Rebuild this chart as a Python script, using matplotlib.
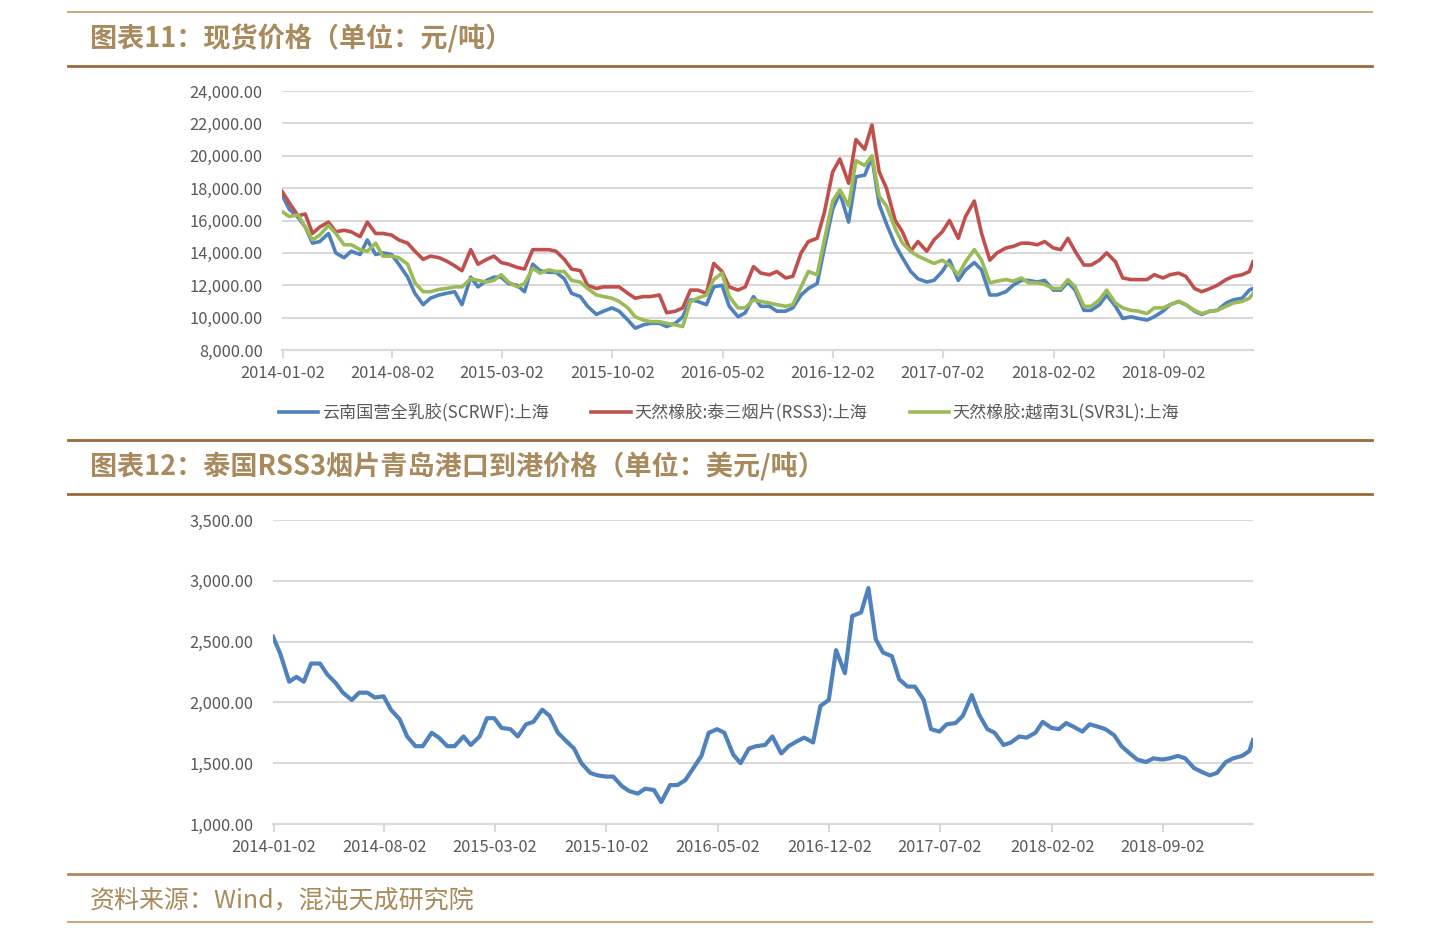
import matplotlib
matplotlib.use("Agg")
import matplotlib.pyplot as plt
import pandas as pd

plt.rcParams['font.family'] = ['Noto Sans CJK SC', 'DejaVu Sans']

# semi-monthly sample dates, plus the last day shown
dates = list(pd.date_range('2014-01-01', '2019-02-15', freq='SMS')) + [pd.Timestamp('2019-02-22')]

# chart 11: spot prices (yuan/ton)
scrwf = [17600, 16700, 16200, 15600, 14600, 14700, 15200, 14000, 13700, 14100,
         13900, 14800, 13900, 14000, 13900, 13300, 12500, 11500, 10800, 11200,
         11400, 11500, 11600, 10800, 12500, 11900, 12300, 12500, 12500, 12100,
         12000, 11600, 13300, 12900, 12800, 12800, 12400, 11500, 11300, 10700,
         10200, 10400, 10600, 10400, 9850, 9350, 9550, 9650, 9650, 9450,
         9650, 10050, 11100, 11000, 10800, 11900, 12000, 10700, 10050, 10300,
         11300, 10700, 10700, 10400, 10400, 10600, 11400, 11800, 12100, 14300,
         16700, 17700, 15900, 18700, 18800, 19900, 17000, 15800, 14500, 13700,
         12850, 12400, 12200, 12300, 12850, 13550, 12300, 12950, 13400, 12950,
         11400, 11400, 11600, 12000, 12300, 12300, 12200, 12300, 11700, 11700,
         12200, 11700, 10450, 10450, 10800, 11400, 10700, 9950, 10050, 9950,
         9850, 10050, 10400, 10800, 11000, 10800, 10400, 10200, 10400, 10450,
         10900, 11100, 11200, 11700, 11800]
rss3 = [17800, 17100, 16300, 16400, 15200, 15600, 15900, 15300, 15400, 15300,
        15000, 15900, 15200, 15200, 15100, 14800, 14600, 14100, 13600, 13800,
        13700, 13500, 13200, 12900, 14200, 13300, 13600, 13800, 13400, 13300,
        13100, 13000, 14200, 14200, 14200, 14100, 13600, 13000, 12900, 12000,
        11800, 11900, 11900, 11900, 11500, 11200, 11300, 11300, 11400, 10300,
        10400, 10600, 11700, 11700, 11500, 13350, 12850, 11900, 11700, 11900,
        13150, 12750, 12650, 12850, 12450, 12550, 14000, 14700, 14900, 16500,
        19000, 19800, 18300, 21000, 20400, 21900, 19000, 18000, 16000, 15300,
        14100, 14700, 14100, 14800, 15300, 16000, 14900, 16250, 17200, 15200,
        13550, 14000, 14300, 14400, 14600, 14600, 14500, 14700, 14300, 14200,
        14900, 14100, 13250, 13250, 13550, 14000, 13450, 12450, 12350, 12350,
        12350, 12650, 12450, 12650, 12750, 12550, 11800, 11600, 11800, 12000,
        12350, 12550, 12650, 12850, 13450]
svr3l = [16550, 16250, 16350, 15600, 14800, 15100, 15700, 15200, 14500, 14500,
         14200, 14100, 14600, 13800, 13800, 13700, 13300, 12150, 11600, 11600,
         11750, 11800, 11900, 11900, 12400, 12300, 12200, 12300, 12650, 12200,
         11900, 12100, 13050, 12750, 12950, 12850, 12850, 12300, 12200, 11800,
         11400, 11300, 11200, 11000, 10600, 10050, 9850, 9750, 9750, 9650,
         9550, 9450, 11000, 11200, 11400, 12350, 12750, 11300, 10600, 10600,
         11100, 11000, 10900, 10800, 10700, 10800, 11900, 12850, 12650, 14800,
         17200, 17900, 16900, 19700, 19400, 20000, 17500, 16900, 15500, 14600,
         14100, 13800, 13550, 13350, 13550, 13250, 12650, 13450, 14200, 13550,
         12150, 12250, 12350, 12250, 12450, 12150, 12150, 12050, 11800, 11800,
         12350, 11900, 10700, 10700, 11100, 11700, 10900, 10600, 10450, 10400,
         10250, 10600, 10600, 10800, 11000, 10800, 10450, 10250, 10400, 10450,
         10700, 10900, 11000, 11200, 11500]

# chart 12: Thai RSS3 arrival price at Qingdao (USD/ton)
rss3_qd = [2540, 2400, 2170, 2210, 2170, 2320, 2320, 2230, 2160, 2080,
           2020, 2080, 2080, 2040, 2050, 1940, 1860, 1720, 1640, 1640,
           1750, 1710, 1640, 1640, 1720, 1650, 1720, 1870, 1870, 1790,
           1780, 1720, 1820, 1840, 1940, 1890, 1750, 1690, 1620, 1500,
           1420, 1400, 1390, 1390, 1310, 1270, 1250, 1290, 1280, 1180,
           1320, 1320, 1360, 1450, 1560, 1750, 1780, 1750, 1570, 1500,
           1620, 1640, 1650, 1720, 1580, 1640, 1680, 1710, 1670, 1970,
           2020, 2430, 2240, 2710, 2740, 2940, 2520, 2410, 2380, 2190,
           2130, 2130, 2020, 1780, 1760, 1820, 1830, 1890, 2060, 1900,
           1780, 1750, 1650, 1670, 1720, 1710, 1750, 1840, 1790, 1780,
           1830, 1800, 1760, 1820, 1800, 1780, 1730, 1640, 1580, 1530,
           1510, 1540, 1530, 1540, 1560, 1540, 1460, 1430, 1400, 1420,
           1510, 1540, 1560, 1600, 1690]

tick_labels = ['2014-01-02', '2014-08-02', '2015-03-02', '2015-10-02', '2016-05-02',
               '2016-12-02', '2017-07-02', '2018-02-02', '2018-09-02']
top_ticks = list(range(8000, 24001, 2000))
bot_ticks = list(range(1000, 3501, 500))
legend_labels = ['云南国营全乳胶(SCRWF):上海', '天然橡胶:泰三烟片(RSS3):上海', '天然橡胶:越南3L(SVR3L):上海']

BLUE, RED, GREEN = '#4f81bd', '#c0504d', '#9bbb59'
GRID = '#d9d9d9'
TXT = '#595959'
GOLD = '#a88a5c'
DARK = '#9c6a3a'

W, H = 1440, 934
fig = plt.figure(figsize=(W / 100, H / 100), dpi=100)


def ax_at(x0, y0, x1, y1):
    # pixel box (top-left origin) -> axes
    return fig.add_axes([x0 / W, 1 - y1 / H, (x1 - x0) / W, (y1 - y0) / H])


def hline(y, color, lw):
    fig.add_artist(plt.Line2D([68 / W, 1372 / W], [1 - y / H, 1 - y / H], color=color, lw=lw))


def style_axes(ax, yticks):
    ax.set_ylim(yticks[0], yticks[-1])
    ax.set_yticks(yticks)
    ax.set_yticklabels(['{:,.2f}'.format(v) for v in yticks])
    ax.set_xlim(pd.Timestamp('2014-01-01'), pd.Timestamp('2019-02-22'))
    ax.set_xticks([pd.Timestamp(t) for t in tick_labels])
    ax.set_xticklabels(tick_labels)
    ax.grid(axis='y', color=GRID, lw=1.5)
    ax.set_axisbelow(True)
    for s in ['left', 'right', 'top']:
        ax.spines[s].set_visible(False)
    ax.spines['bottom'].set_color(GRID)
    ax.spines['bottom'].set_linewidth(1.5)
    ax.tick_params(axis='y', length=0, pad=14, labelsize=11.8, labelcolor=TXT)
    ax.tick_params(axis='x', length=6, width=1.5, color=GRID, pad=5, labelsize=11.8, labelcolor=TXT)


# headers and rules
hline(12, '#c9ab7f', 1.5)
fig.text(90 / W, 1 - 39 / H, '图表11：现货价格（单位：元/吨）', fontsize=19.5, fontweight='bold',
         color=GOLD, va='center')
hline(66, DARK, 2)
hline(440, DARK, 2)
fig.text(90 / W, 1 - 467 / H, '图表12：泰国RSS3烟片青岛港口到港价格（单位：美元/吨）', fontsize=19.5,
         fontweight='bold', color=GOLD, va='center')
hline(494, DARK, 2)
hline(874, '#b08a5e', 2)
fig.text(90 / W, 1 - 900 / H, '资料来源：Wind，混沌天成研究院', fontsize=18, style='italic',
         color=GOLD, va='center')
hline(922, '#c9ab7f', 1.5)

# top chart
ax1 = ax_at(282, 91, 1253, 350)
l1, = ax1.plot(dates, scrwf, color=BLUE, lw=2.6)
l2, = ax1.plot(dates, rss3, color=RED, lw=2.6)
l3, = ax1.plot(dates, svr3l, color=GREEN, lw=2.6)
style_axes(ax1, top_ticks)
fig.legend([l1, l2, l3], legend_labels, loc='center', bbox_to_anchor=(729 / W, 1 - 413 / H),
           ncol=3, frameon=False, fontsize=12.3, handlelength=2.3, handletextpad=0.2,
           columnspacing=2.5, labelcolor=TXT)

# bottom chart
ax2 = ax_at(273, 520, 1253, 824)
ax2.plot(dates, rss3_qd, color=BLUE, lw=3)
style_axes(ax2, bot_ticks)

fig.savefig('out.png', dpi=100)
